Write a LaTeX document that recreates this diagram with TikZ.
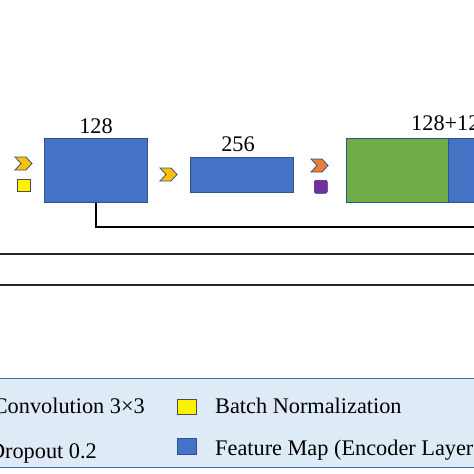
\documentclass[tikz,border=0pt]{standalone}
\usepackage{fontspec}
\setmainfont{Liberation Serif}
\definecolor{fmblue}{HTML}{4472C4}
\definecolor{fmgreen}{HTML}{70AD47}
\definecolor{edge}{HTML}{2F528F}
\definecolor{chevy}{HTML}{FFC000}
\definecolor{chevo}{HTML}{ED7D31}
\definecolor{purp}{HTML}{7030A0}
\definecolor{legfill}{HTML}{DEEBF7}
\definecolor{legedge}{HTML}{41719C}
\tikzset{
  fmap/.style={draw=edge, line width=0.9pt, fill=fmblue, inner sep=0pt, anchor=north west},
  catmap/.style={draw=edge, line width=0.9pt, fill=fmgreen, inner sep=0pt, anchor=north west},
  bnsq/.style={draw=black!70, line width=0.8pt, fill=yellow, inner sep=0pt, anchor=north west},
  dropsq/.style={draw=purp!70!black, line width=0.6pt, fill=purp, inner sep=0pt, rounded corners=2pt, anchor=north west},
  lbl/.style={font=\fontsize{22.3}{25}\selectfont, inner sep=0pt},
  skip/.style={draw=black, line width=1.5pt},
  rule/.style={draw=black!85, line width=2pt},
  chev/.style={draw=edge, line width=0.8pt, line join=miter}
}
\newcommand{\mychev}[3]{% x y (left-top), fill
  \filldraw[chev, fill=#3] (#1,#2) -- ++(11,0) -- ++(6,6.5) -- ++(-6,6.5) -- ++(-11,0) -- ++(6,-6.5) -- cycle;}
\begin{document}
\begin{tikzpicture}[x=1pt,y=-1pt]
\useasboundingbox (0,0) rectangle (474,474);
\clip (0,0) rectangle (474,474);
% encoder blocks
\node[fmap, minimum width=103pt, minimum height=64pt] (b1) at (44,138) {};
\node[fmap, minimum width=103pt, minimum height=35pt] (b2) at (190,157) {};
\node[catmap, minimum width=102pt, minimum height=64pt] (g3) at (346,138) {};
\node[fmap, minimum width=103pt, minimum height=64pt] (b3) at (448,138) {};
% labels
\node[lbl, anchor=base] (t1) at (96,133) {128};
\node[lbl, anchor=base] (t2) at (238,151) {256};
\node[lbl, anchor=base west] (t3) at (411,130) {128+128};
% operation markers
\mychev{15}{157}{chevy}
\node[bnsq, minimum width=13pt, minimum height=12pt] (bn1) at (17,179) {};
\mychev{160}{168}{chevy}
\mychev{311}{159}{chevo}
\node[dropsq, minimum width=13pt, minimum height=13pt] (do1) at (314,180) {};
% skip connection
\coordinate (skipend) at (480,227);
\draw[skip] (b1.south) |- (skipend);
% rules
\coordinate (r1a) at (-5,253.5);
\coordinate (r1b) at (480,253.5);
\coordinate (r2a) at (-5,285);
\coordinate (r2b) at (480,285);
\draw[rule] (r1a) -- (r1b);
\draw[rule] (r2a) -- (r2b);
% legend
\node[draw=legedge, line width=1.2pt, fill=legfill, inner sep=0pt, anchor=north west,
      minimum width=500pt, minimum height=89pt] (leg) at (-13,378) {};
\node[lbl, anchor=base east] (l1) at (145,413) {Convolution 3×3};
\node[lbl, anchor=base east] (l2) at (97,458) {Dropout 0.2};
\node[bnsq, minimum width=19pt, minimum height=15pt] (ls1) at (177,399) {};
\node[fmap, minimum width=19pt, minimum height=16pt] (ls2) at (177,438) {};
\node[lbl, anchor=base west] (l3) at (215,413) {Batch Normalization};
\node[lbl, anchor=base west] (l4) at (215,455) {Feature Map (Encoder Layer)};
\end{tikzpicture}
\end{document}
